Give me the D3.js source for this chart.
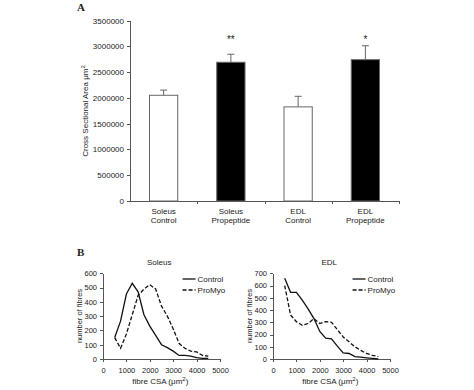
<!DOCTYPE html>
<html>
<head>
<script src="https://d3js.org/d3.v7.min.js"></script>
<title>Fibre CSA</title>
<style>
body {margin:0; background:white;}
text {font-family: "Liberation Sans", Arial, sans-serif; fill:#222;}
.axis path, .axis line {stroke:#555; shape-rendering:crispEdges;}
.axis text {font-size:8px; fill:#222;}
.small text {font-size:7.5px;}
</style>
</head>
<body>
<div id="myDiv"></div>
<script>
// ---- panel A data
var groups = ["Soleus|Control", "Soleus|Propeptide", "EDL|Control", "EDL|Propeptide"];
var csaMean = [2050000, 2690000, 1825000, 2740000];
var csaErr = [100000, 155000, 205000, 270000];
var barFill = ["white", "black", "white", "black"];
var stars = ["", "**", "", "*"];
var csaTicks = [0, 500000, 1000000, 1500000, 2000000, 2500000, 3000000, 3500000];

// ---- panel B data (fibre CSA bins, um^2)
var bins = [500, 750, 1000, 1250, 1500, 1750, 2000, 2250, 2500, 2750, 3000, 3250, 3500, 3750, 4000, 4250, 4500];
var soleusControl = [150, 265, 455, 530, 470, 310, 230, 165, 100, 80, 55, 25, 25, 20, 10, 5, 5];
var soleusProMyo = [150, 75, 175, 310, 445, 490, 520, 490, 370, 300, 210, 110, 75, 55, 50, 25, 20];
var edlControl = [660, 545, 545, 480, 410, 330, 225, 170, 165, 105, 50, 45, 20, 15, 10, 5, 0];
var edlProMyo = [600, 360, 305, 275, 290, 330, 290, 305, 300, 240, 180, 140, 100, 70, 45, 30, 20];
var csaBinTicks = [0, 1000, 2000, 3000, 4000, 5000];
var soleusTicks = [0, 100, 200, 300, 400, 500, 600];
var edlTicks = [0, 100, 200, 300, 400, 500, 600, 700];

var svg = d3.select("#myDiv").append("svg")
	.attr("width", 474)
	.attr("height", 390);

// ================= Panel A =================
var yScale = d3.scaleLinear().domain([0, 3500000]).range([201, 20.5]);
var xBand = d3.scaleBand().domain(groups).range([130, 399])
	.paddingInner(0.58).paddingOuter(0.29);
var xEdge = d3.scaleLinear().domain([0, groups.length]).range([130, 399]);

svg.append("g").attr("class", "axis")
	.attr("transform", "translate(130,0)")
	.call(d3.axisLeft(yScale).tickValues(csaTicks).tickSize(3).tickSizeOuter(0).tickFormat(d3.format("d")));

svg.append("g").attr("class", "axis")
	.attr("transform", "translate(0,201)")
	.call(d3.axisBottom(xEdge).tickValues([1, 2, 3, 4]).tickSize(3).tickSizeOuter(0).tickFormat(""));

// category labels, two lines each
var catLab = svg.append("g").selectAll("text").data(groups).enter()
	.append("text")
	.attr("text-anchor", "middle")
	.style("font-size", "8px")
	.attr("x", function(d) {return xBand(d) + xBand.bandwidth() / 2;})
	.attr("y", 214);
catLab.append("tspan").text(function(d) {return d.split("|")[0];});
catLab.append("tspan")
	.attr("x", function(d) {return xBand(d) + xBand.bandwidth() / 2;})
	.attr("dy", 9)
	.text(function(d) {return d.split("|")[1];});

// error bars (upper only)
svg.append("g").selectAll("g").data(groups).enter()
	.append("g")
	.each(function(d, i) {
		var cx = xBand(d) + xBand.bandwidth() / 2;
		var g = d3.select(this);
		g.append("line").attr("x1", cx).attr("x2", cx)
			.attr("y1", yScale(csaMean[i])).attr("y2", yScale(csaMean[i] + csaErr[i]))
			.attr("stroke", "#666").attr("stroke-width", 1);
		g.append("line").attr("x1", cx - 3.5).attr("x2", cx + 3.5)
			.attr("y1", yScale(csaMean[i] + csaErr[i])).attr("y2", yScale(csaMean[i] + csaErr[i]))
			.attr("stroke", "#666").attr("stroke-width", 1);
	});

svg.append("g").selectAll("rect").data(groups).enter()
	.append("rect")
	.attr("x", function(d) {return xBand(d);})
	.attr("y", function(d, i) {return yScale(csaMean[i]);})
	.attr("width", xBand.bandwidth())
	.attr("height", function(d, i) {return 201 - yScale(csaMean[i]);})
	.attr("fill", function(d, i) {return barFill[i];})
	.attr("stroke", "#666")
	.attr("stroke-width", 1);

svg.append("g").selectAll("text").data(groups).enter()
	.append("text")
	.attr("text-anchor", "middle")
	.style("font-size", "10px")
	.attr("x", function(d) {return xBand(d) + xBand.bandwidth() / 2;})
	.attr("y", function(d, i) {return yScale(3150000) + 4;})
	.text(function(d, i) {return stars[i];});

var yTitle = svg.append("text")
	.attr("transform", "translate(88,111) rotate(-90)")
	.attr("text-anchor", "middle")
	.style("font-size", "8px")
	.text("Cross Sectional Area \u03bcm");
yTitle.append("tspan").attr("dy", -3).style("font-size", "6px").text("2");

svg.append("text").attr("x", 77).attr("y", 11)
	.style("font-family", "'Liberation Serif', 'Times New Roman', serif")
	.style("font-weight", "bold").style("font-size", "11px").text("A");

// ================= Panel B =================
svg.append("text").attr("x", 77).attr("y", 256)
	.style("font-family", "'Liberation Serif', 'Times New Roman', serif")
	.style("font-weight", "bold").style("font-size", "11px").text("B");

function histPanel(x0, yMax, yTicks, title, ctrl, promyo) {
	var x = d3.scaleLinear().domain([0, 5000]).range([x0, x0 + 117]);
	var y = d3.scaleLinear().domain([0, yMax]).range([359, 273.3]);
	var g = svg.append("g");

	g.append("g").attr("class", "axis small")
		.attr("transform", "translate(" + x0 + ",0)")
		.call(d3.axisLeft(y).tickValues(yTicks).tickSize(3).tickSizeOuter(0));
	g.append("g").attr("class", "axis small")
		.attr("transform", "translate(0,359)")
		.call(d3.axisBottom(x).tickValues(csaBinTicks).tickSize(3).tickSizeOuter(0)
			.tickPadding(6).tickFormat(d3.format("d")));

	var line = d3.line()
		.x(function(d) {return x(d[0]);})
		.y(function(d) {return y(d[1]);});

	g.append("path")
		.datum(d3.zip(bins, ctrl))
		.attr("d", line)
		.attr("fill", "none").attr("stroke", "#111").attr("stroke-width", 1.3);
	g.append("path")
		.datum(d3.zip(bins, promyo))
		.attr("d", line)
		.attr("fill", "none").attr("stroke", "#111").attr("stroke-width", 1.3)
		.attr("stroke-dasharray", "4,2");

	g.append("text").attr("x", x(2400)).attr("y", 265)
		.attr("text-anchor", "middle").style("font-size", "8px").text(title);

	var xt = g.append("text").attr("x", x(2450)).attr("y", 384)
		.attr("text-anchor", "middle").style("font-size", "8px").text("fibre CSA (\u03bcm");
	xt.append("tspan").attr("dy", -3).style("font-size", "6px").text("2");
	xt.append("tspan").attr("dy", 3).text(")");

	g.append("text")
		.attr("transform", "translate(" + (x0 - 21) + ",316) rotate(-90)")
		.attr("text-anchor", "middle").style("font-size", "7.5px").text("number of fibres");

	// legend
	var lx = x(3400);
	g.append("line").attr("x1", lx).attr("x2", lx + 13).attr("y1", 279).attr("y2", 279)
		.attr("stroke", "#111").attr("stroke-width", 1.3);
	g.append("line").attr("x1", lx).attr("x2", lx + 13).attr("y1", 290).attr("y2", 290)
		.attr("stroke", "#111").attr("stroke-width", 1.3).attr("stroke-dasharray", "4,2");
	g.append("text").attr("x", lx + 15).attr("y", 282).style("font-size", "8px").text("Control");
	g.append("text").attr("x", lx + 15).attr("y", 293).style("font-size", "8px").text("ProMyo");
}

histPanel(103, 600, soleusTicks, "Soleus", soleusControl, soleusProMyo);
histPanel(273, 700, edlTicks, "EDL", edlControl, edlProMyo);
</script>
</body>
</html>
